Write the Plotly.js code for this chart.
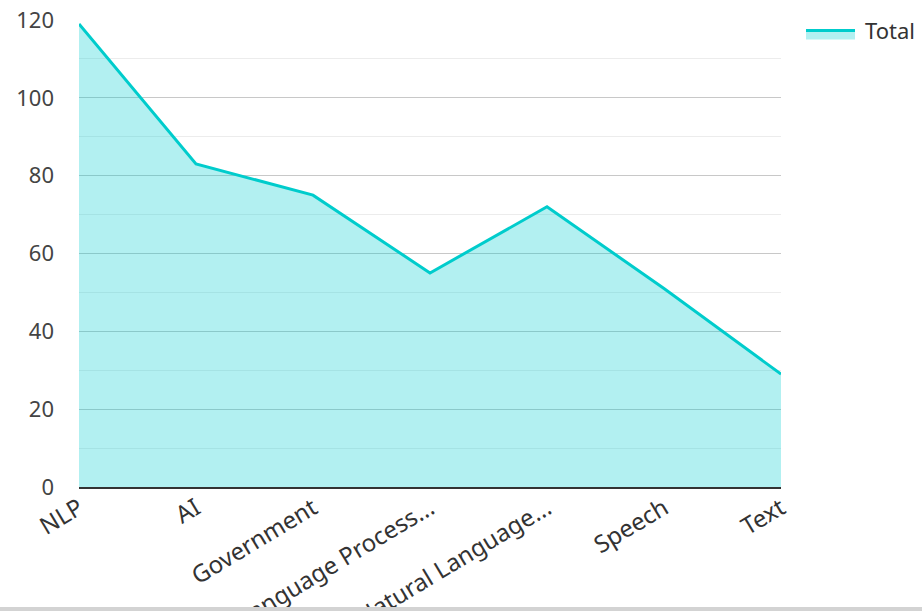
<!DOCTYPE html>
<html>
<head>
<meta charset="utf-8">
<script src="https://cdn.plot.ly/plotly-3.0.1.min.js"></script>
<style>
  html, body { margin: 0; padding: 0; background: #fff; }
  #wrap { position: relative; width: 922px; height: 611px; overflow: hidden; }
  #chart { width: 922px; height: 611px; }
  #bar { position: absolute; left: 0; top: 607px; width: 922px; height: 4px; background: #d3d3d3; }
</style>
</head>
<body>
<div id="wrap">
  <div id="chart"></div>
  <div id="bar"></div>
</div>
<script>
const categories = ["NLP", "AI", "Government", "Language Process...", "Natural Language...", "Speech", "Text"];
const totals = [119, 83, 75, 55, 72, 51, 29];
const seriesName = "Total";
const yTicks = [0, 20, 40, 60, 80, 100, 120];

const trace = {
  type: "scatter",
  mode: "lines",
  name: seriesName,
  x: categories,
  y: totals,
  fill: "tozeroy",
  fillcolor: "rgba(0,206,209,0.30)",
  line: { color: "#00cccc", width: 3 },
  hoverinfo: "x+y"
};

const layout = {
  width: 922,
  height: 611,
  margin: { l: 79, r: 141, t: 20, b: 124, autoexpand: false },
  paper_bgcolor: "#ffffff",
  plot_bgcolor: "#ffffff",
  font: { family: "Noto Sans, Open Sans, sans-serif", size: 22, color: "#444" },
  showlegend: true,
  legend: {
    x: 1.0285, y: 1.022, xanchor: "left", yanchor: "top",
    itemwidth: 54,
    font: { size: 22, color: "#333" },
    bgcolor: "rgba(0,0,0,0)"
  },
  xaxis: {
    type: "category",
    range: [0, 6],
    tickangle: -31,
    showgrid: false,
    showline: true,
    linecolor: "#333",
    linewidth: 2,
    ticks: "",
    zeroline: false,
    ticklabelstandoff: -4,
    tickfont: { size: 24, color: "#333" },
    fixedrange: true
  },
  yaxis: {
    range: [0, 120],
    tickvals: yTicks,
    ticktext: yTicks.map(String),
    showgrid: true,
    gridcolor: "#c8c8c8",
    gridwidth: 1,
    minor: { dtick: 10, tick0: 0, showgrid: true, gridcolor: "#ececec", gridwidth: 1, ticks: "" },
    zeroline: false,
    showline: false,
    ticks: "",
    ticklabelstandoff: 24,
    tickfont: { size: 22, color: "#444" },
    fixedrange: true
  }
};

function widenLegendSymbol() {
  document.querySelectorAll("#chart .legendlines path").forEach(p => p.setAttribute("d", "M5,0h49"));
  document.querySelectorAll("#chart .legendfill path").forEach(p => p.setAttribute("d", "M5,0h49v9h-49z"));
}

Plotly.newPlot("chart", [trace], layout, { displayModeBar: false }).then(widenLegendSymbol);
</script>
</body>
</html>
